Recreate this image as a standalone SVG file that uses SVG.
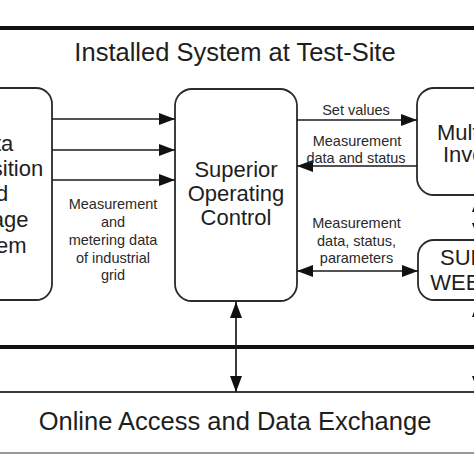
<svg xmlns="http://www.w3.org/2000/svg" width="474" height="474" viewBox="0 0 474 474">
<style>
.box{fill:#fff;stroke:#2a2a2a;stroke-width:1.8}
.big{font-family:"Liberation Sans",Arial,sans-serif;font-size:25.5px;fill:#1e1e1e;text-anchor:middle}
.node{font-family:"Liberation Sans",Arial,sans-serif;font-size:22px;fill:#1e1e1e;text-anchor:middle}
.lbl{font-family:"Liberation Sans",Arial,sans-serif;font-size:14.5px;fill:#2a2a2a;text-anchor:middle}
.con{stroke:#1a1a1a;stroke-width:1.7;fill:none}
.thick{stroke:#111;stroke-width:4}
</style>
<defs>
<marker id="ah" markerUnits="userSpaceOnUse" markerWidth="16" markerHeight="12" refX="16" refY="6" orient="auto-start-reverse">
<path d="M0,0 L16,6 L0,12 z" fill="#111"/>
</marker>
</defs>
<rect width="474" height="474" fill="#fff"/>
<g id="frame">
<line class="thick" x1="0" y1="28" x2="474" y2="28"/>
<line class="thick" x1="0" y1="347" x2="474" y2="347"/>
<line x1="0" y1="392" x2="474" y2="392" stroke="#3a3a3a" stroke-width="2"/>
<line x1="0" y1="453" x2="474" y2="453" stroke="#777" stroke-width="1.5"/>
<text class="big" x="235" y="61">Installed System at Test-Site</text>
<text class="big" x="235" y="430">Online Access and Data Exchange</text>
</g>
<g id="daq">
<rect class="box" x="-80" y="88" width="132" height="212" rx="16"/>
<text class="node" x="-10" y="151">Data</text>
<text class="node" x="-10" y="176">Acquisition</text>
<text class="node" x="-10" y="201">and</text>
<text class="node" x="-10" y="226.5">Storage</text>
<text class="node" x="-10" y="252.5">System</text>
</g>
<g id="soc">
<rect class="box" x="175" y="89" width="122" height="212" rx="17"/>
<text class="node" x="236" y="177">Superior</text>
<text class="node" x="236" y="201">Operating</text>
<text class="node" x="236" y="225">Control</text>
</g>
<g id="inverter">
<rect class="box" x="417" y="88" width="120" height="107" rx="17"/>
<text class="node" x="437" y="140" style="text-anchor:start">Multi-String</text>
<text class="node" x="443" y="162" style="text-anchor:start">Inverter</text>
</g>
<g id="webbox">
<rect class="box" x="418" y="240" width="120" height="60" rx="16"/>
<text class="node" x="478.5" y="265">SUNNY</text>
<text class="node" x="478.5" y="290">WEBBOX</text>
</g>
<g id="connectors">
<line class="con" x1="52" y1="119" x2="175" y2="119" marker-end="url(#ah)"/>
<line class="con" x1="52" y1="150" x2="175" y2="150" marker-end="url(#ah)"/>
<line class="con" x1="52" y1="180" x2="175" y2="180" marker-end="url(#ah)"/>
<line class="con" x1="297" y1="120" x2="417" y2="120" marker-end="url(#ah)"/>
<line class="con" x1="417" y1="166" x2="297" y2="166" marker-end="url(#ah)"/>
<line class="con" x1="297" y1="271" x2="418" y2="271" marker-start="url(#ah)" marker-end="url(#ah)"/>
<line class="con" x1="236" y1="302" x2="236" y2="392" marker-start="url(#ah)" marker-end="url(#ah)"/>
<line class="con" x1="478" y1="196" x2="478" y2="239" marker-start="url(#ah)" marker-end="url(#ah)"/>
<line class="con" x1="478" y1="301" x2="478" y2="392" marker-start="url(#ah)" marker-end="url(#ah)"/>
</g>
<g id="labels">
<text class="lbl" x="113" y="209">Measurement</text>
<text class="lbl" x="113" y="227">and</text>
<text class="lbl" x="113" y="245">metering data</text>
<text class="lbl" x="113" y="262.5">of industrial</text>
<text class="lbl" x="113" y="280">grid</text>
<text class="lbl" x="356" y="115">Set values</text>
<text class="lbl" x="357" y="146">Measurement</text>
<text class="lbl" x="356" y="163">data and status</text>
<text class="lbl" x="356.5" y="228">Measurement</text>
<text class="lbl" x="356.5" y="245.5">data, status,</text>
<text class="lbl" x="356.5" y="263">parameters</text>
</g>
</svg>
